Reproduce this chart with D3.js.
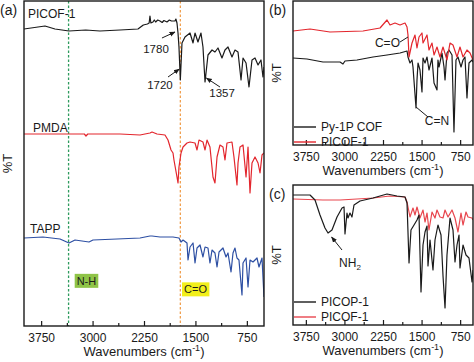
<!DOCTYPE html>
<html>
<head>
<meta charset="utf-8">
<script src="https://cdn.jsdelivr.net/npm/d3@7"></script>
<style>
  body { margin: 0; background: #fff; }
  svg text { font-family: "Liberation Sans", Arial, sans-serif; fill: #1a1a1a; }
</style>
</head>
<body>
<svg id="chart" width="474" height="362"></svg>
<script>
// ---- data (wavenumber cm-1, relative %T) ----
const majorTicks = [3750, 3000, 2250, 1500, 750];
const minorTicks = [3375, 2625, 1875, 1125];
const guideLines = [{w: 3350, color: "#2e9b5e"}, {w: 1720, color: "#f0a050"}];

// panel (a)
const picofA = [[4000,59.4],[3694,60],[3548,59.4],[3344,59],[3100,59.2],[2892,59],[2600,59.2],[2338,59.4],[2260,60.2],[2200,60.4],[2175,60.6],[2163,62],[2150,60.6],[2119,60.8],[2100,61.2],[2080,60.8],[2050,61.2],[2017,61],[1985,60.7],[1960,61.1],[1915,60.8],[1880,61.2],[1850,61],[1798,61],[1785,61.4],[1769,60.6],[1754,58.6],[1740,55.8],[1720,49.2],[1696,56.6],[1652,57.8],[1579,58.6],[1535,56.6],[1506,58.6],[1463,56.8],[1419,58.6],[1390,55.8],[1360,48.8],[1317,54.2],[1258,55.2],[1215,54.8],[1171,55.6],[1113,53.6],[1069,55.2],[1025,55.8],[967,53.8],[923,55.2],[879,54.8],[835,49.2],[806,53.6],[762,52.6],[719,47.8],[675,53.2],[631,53.6],[587,52.2],[544,53.2],[515,49.8],[500,51.8]];
const pmdaA = [[4000,38.4],[3500,38.4],[3120,38.4],[3096,38],[3070,38.4],[2600,38.4],[2308,38.2],[2163,38.6],[2133,38.8],[2060,38.4],[1944,38.2],[1900,37.2],[1856,35.2],[1827,34.6],[1813,33.2],[1769,29.8],[1754,28.6],[1740,31.8],[1710,34.6],[1681,35.8],[1623,36.6],[1579,36.8],[1506,36.6],[1477,35.2],[1448,37.2],[1390,36.8],[1360,35.2],[1331,37.2],[1288,35.8],[1244,29.8],[1215,28.6],[1185,33.8],[1142,36.2],[1098,35.8],[1069,33.2],[1040,36.6],[967,36.8],[938,33.8],[894,28.2],[879,32.6],[850,35.8],[806,36.2],[762,29.8],[733,35.8],[704,26.6],[675,32.6],[631,33.8],[587,32.6],[558,30.6],[529,34.2],[500,34.6]];
const tappA = [[4000,17.6],[3723,17.8],[3475,17.4],[3344,16.6],[3256,17.2],[3052,16.8],[2994,17.2],[2644,17.4],[2308,17.6],[2163,18],[2133,18],[2017,17.8],[1827,17.8],[1740,17.6],[1710,16.8],[1681,17.2],[1623,16.6],[1608,13.2],[1579,15.8],[1535,16.6],[1506,12.6],[1477,15.6],[1433,16.2],[1390,13.8],[1360,15.8],[1317,15.6],[1288,12.6],[1258,15.2],[1215,14.6],[1185,11.8],[1156,14.8],[1098,15.6],[1054,13.8],[1025,14.6],[981,10.8],[952,14.6],[923,15.6],[894,13.6],[865,13.2],[821,6.2],[806,12.6],[762,13.6],[733,7.8],[704,13.2],[660,12.8],[602,13.6],[573,11.8],[529,13.6],[500,5.8]];

// panel (b)
const py1pB = [[4000,43.5],[3728,43],[3417,41.5],[3086,41.5],[3028,40.5],[2989,42],[2756,42.5],[2444,44],[2172,45],[1919,46],[1783,47],[1764,44],[1725,41],[1686,42.5],[1667,39],[1608,18.5],[1589,32.5],[1569,41],[1531,37.5],[1492,26.5],[1472,43.5],[1433,41],[1394,44],[1356,37.5],[1297,43.5],[1258,31],[1200,27.5],[1181,42.5],[1161,39],[1103,46],[1064,39],[1044,32.5],[1006,46],[967,47.5],[908,45],[870,6.5],[831,42.5],[792,44],[733,39],[694,42.5],[656,44],[617,23.5],[578,41],[519,42.5],[500,41.5]];
const picofB = [[4000,57],[3669,58],[3281,56.5],[2639,57],[2308,58.5],[2172,62.5],[2114,60],[2017,61],[1919,60],[1822,61],[1783,59],[1764,55],[1744,44],[1686,51],[1628,55],[1589,48.5],[1550,54],[1492,56],[1472,51],[1394,55],[1356,47.5],[1297,51],[1258,45],[1200,49],[1142,44],[1083,49],[1006,42.5],[947,51],[889,50],[811,44],[753,49],[694,44],[617,47.5],[558,46],[500,42.5]];

// panel (c)
const picopC = [[4000,65],[3669,65],[3572,62.5],[3475,55],[3378,48.5],[3319,46],[3242,47.5],[3144,54],[3047,58.5],[3008,59],[2989,45.5],[2950,56],[2931,53.5],[2892,56],[2853,54],[2814,60],[2697,62],[2444,63.5],[2172,65.5],[1978,64.5],[1822,64],[1783,61],[1744,31],[1706,47.5],[1647,50],[1589,52.5],[1550,55],[1511,16.5],[1472,40],[1433,46.5],[1394,49.5],[1375,29.5],[1336,42.5],[1278,27.5],[1239,42.5],[1181,50],[1122,45],[1083,24.5],[1044,8.5],[1006,35],[947,53.5],[889,47.5],[850,31.5],[811,40],[772,45],[753,28.5],[694,40],[636,35],[578,33.5],[519,21.5],[500,27.5]];
const picofC = [[4000,63],[3417,62.5],[3086,62.5],[2756,63],[2444,63.5],[2114,64.5],[1822,64],[1783,61.5],[1725,54],[1667,58.5],[1628,55],[1589,59],[1531,53.5],[1472,57.5],[1433,51.5],[1394,56],[1356,47.5],[1297,56.5],[1239,53.5],[1200,57.5],[1142,54],[1083,53.5],[1044,57.5],[986,54],[908,57.5],[850,53.5],[792,46.5],[733,56],[694,50],[636,56.5],[597,54],[519,53.5],[500,52.5]];

const svg = d3.select("#chart");
const FONT = 12;

function panel(id, box, ymax, tag) {
  const x = d3.scaleLinear().domain([4000, 500]).range([box.x0, box.x1]);
  const y = d3.scaleLinear().domain([0, ymax]).range([box.y1, box.y0]);
  svg.append("clipPath").attr("id", "clip" + id)
    .append("rect")
      .attr("x", box.x0).attr("y", box.y0)
      .attr("width", box.x1 - box.x0).attr("height", box.y1 - box.y0);
  const g = svg.append("g");
  const plot = g.append("g").attr("clip-path", `url(#clip${id})`);

  // bottom axis, ticks pointing inward
  g.append("g")
    .attr("transform", `translate(0,${box.y1})`)
    .call(d3.axisBottom(x).tickValues(majorTicks).tickFormat(d3.format("d")).tickSize(-5).tickPadding(7))
    .call(a => a.select(".domain").remove())
    .call(a => a.selectAll("line").attr("stroke", "#1a1a1a").attr("stroke-width", 1.2))
    .call(a => a.selectAll("text").attr("font-size", FONT).attr("fill", "#1a1a1a")
      .attr("font-family", '"Liberation Sans", Arial, sans-serif'));
  g.append("g")
    .attr("transform", `translate(0,${box.y1})`)
    .call(d3.axisBottom(x).tickValues(minorTicks).tickSize(-3).tickFormat(""))
    .call(a => a.select(".domain").remove())
    .call(a => a.selectAll("line").attr("stroke", "#1a1a1a").attr("stroke-width", 1.2));

  // axis title
  const t = g.append("text")
    .attr("x", (box.x0 + box.x1) / 2).attr("y", box.y1 + 30)
    .attr("text-anchor", "middle").attr("font-size", 13);
  t.append("tspan").text("Wavenumbers (cm");
  t.append("tspan").attr("dy", -5).attr("font-size", 9).text("-1");
  t.append("tspan").attr("dy", 5).text(")");

  // y title
  g.append("text")
    .attr("transform", `translate(${box.x0 - 12},${(box.y0 + box.y1) / 2}) rotate(-90)`)
    .attr("text-anchor", "middle").attr("font-size", 13).text("%T");

  // panel tag
  g.append("text").attr("x", box.x0 - 24).attr("y", box.y0 + 14)
    .attr("font-size", 14).text(tag);

  return {x, y, g, plot, box};
}

function trace(p, data, color, width) {
  const line = d3.line().x(d => p.x(d[0])).y(d => p.y(d[1]));
  p.plot.append("path").datum(data)
    .attr("d", line).attr("fill", "none")
    .attr("stroke", color).attr("stroke-width", width || 1.2)
    .attr("stroke-linejoin", "round");
}

function frame(p) {
  const b = p.box;
  p.g.append("rect")
    .attr("x", b.x0).attr("y", b.y0)
    .attr("width", b.x1 - b.x0).attr("height", b.y1 - b.y0)
    .attr("fill", "none").attr("stroke", "#1a1a1a").attr("stroke-width", 1.4);
}

function label(p, w, v, txt, anchor, size) {
  return p.g.append("text").attr("x", p.x(w)).attr("y", p.y(v))
    .attr("text-anchor", anchor || "start").attr("font-size", size || FONT).text(txt);
}

// arrowhead marker
svg.append("defs").append("marker")
  .attr("id", "arrow").attr("viewBox", "0 0 10 10")
  .attr("refX", 9).attr("refY", 5)
  .attr("markerWidth", 6).attr("markerHeight", 6)
  .attr("orient", "auto-start-reverse")
  .append("path").attr("d", "M0,1 L10,5 L0,9 z").attr("fill", "#1a1a1a");

function arrow(p, w1, v1, w2, v2, head) {
  const l = p.g.append("line")
    .attr("x1", p.x(w1)).attr("y1", p.y(v1))
    .attr("x2", p.x(w2)).attr("y2", p.y(v2))
    .attr("stroke", "#1a1a1a").attr("stroke-width", 1);
  if (head !== false) l.attr("marker-end", "url(#arrow)");
}

// ---- (a) ----
const A = panel("A", {x0: 24, x1: 264, y0: 1, y1: 326}, 65, "(a)");
guideLines.forEach(gl => {
  A.plot.append("line")
    .attr("x1", A.x(gl.w)).attr("x2", A.x(gl.w))
    .attr("y1", A.box.y0).attr("y2", A.box.y1)
    .attr("stroke", gl.color).attr("stroke-width", 1.3)
    .attr("stroke-dasharray", "2.5,2");
});
trace(A, picofA, "#1a1a1a");
trace(A, pmdaA, "#e3262d");
trace(A, tappA, "#2d4fa3");
frame(A);
label(A, 3942, 61.6, "PICOF-1");
label(A, 3869, 38.8, "PMDA");
label(A, 3912, 18.6, "TAPP");
label(A, 2075, 54.6, "1780", "middle", 11.5);
label(A, 2017, 47.4, "1720", "middle", 11.5);
label(A, 1112, 45.8, "1357", "middle", 11.5);
arrow(A, 1988, 57.6, 1798, 58.8);
arrow(A, 1900, 49.8, 1735, 51.4);
arrow(A, 1142, 47.8, 1340, 49.6);

function boxLabel(p, w, v, txt, fill) {
  const t = p.g.append("text").attr("x", p.x(w)).attr("y", p.y(v))
    .attr("text-anchor", "middle").attr("dy", "0.35em")
    .attr("font-size", 11).text(txt);
  const bb = t.node().getBBox();
  p.g.insert("rect", () => t.node())
    .attr("x", bb.x - 2).attr("y", bb.y - 1)
    .attr("width", bb.width + 4).attr("height", bb.height + 2)
    .attr("fill", fill);
}
boxLabel(A, 3089, 9, "N-H", "#8fc447");
boxLabel(A, 1499, 7.3, "C=O", "#f2ef1a");

// ---- (b) ----
const B = panel("B", {x0: 293, x1: 473, y0: 1, y1: 145}, 72, "(b)");
trace(B, py1pB, "#1a1a1a");
trace(B, picofB, "#e3262d");
frame(B);
label(B, 2163, 49, "C=O", "middle");
arrow(B, 1919, 51.5, 1764, 54, false);
label(B, 1200, 10, "C=N", "middle");
arrow(B, 1608, 19, 1375, 14, false);

// ---- (c) ----
const C = panel("C", {x0: 293, x1: 473, y0: 185, y1: 325}, 70, "(c)");
trace(C, picofC, "#e8474f");
trace(C, picopC, "#1a1a1a");
frame(C);
const nh = label(C, 2892, 29, "NH", "middle");
nh.append("tspan").attr("dy", 3).attr("font-size", 8).text("2");
arrow(C, 3047, 37.5, 3250, 44);

// ---- legends ----
function legend(p, items, top) {
  items.forEach((it, i) => {
    const yy = top + i * 15;
    p.g.append("line")
      .attr("x1", p.box.x0 + 1).attr("x2", p.box.x0 + 23)
      .attr("y1", yy).attr("y2", yy)
      .attr("stroke", it.color).attr("stroke-width", 1.4);
    p.g.append("text").attr("x", p.box.x0 + 28).attr("y", yy + 4)
      .attr("font-size", FONT).text(it.name);
  });
}
legend(B, [{name: "Py-1P COF", color: "#1a1a1a"}, {name: "PICOF-1", color: "#e3262d"}], 127);
legend(C, [{name: "PICOP-1", color: "#1a1a1a"}, {name: "PICOF-1", color: "#e8474f"}], 302);
</script>
</body>
</html>
